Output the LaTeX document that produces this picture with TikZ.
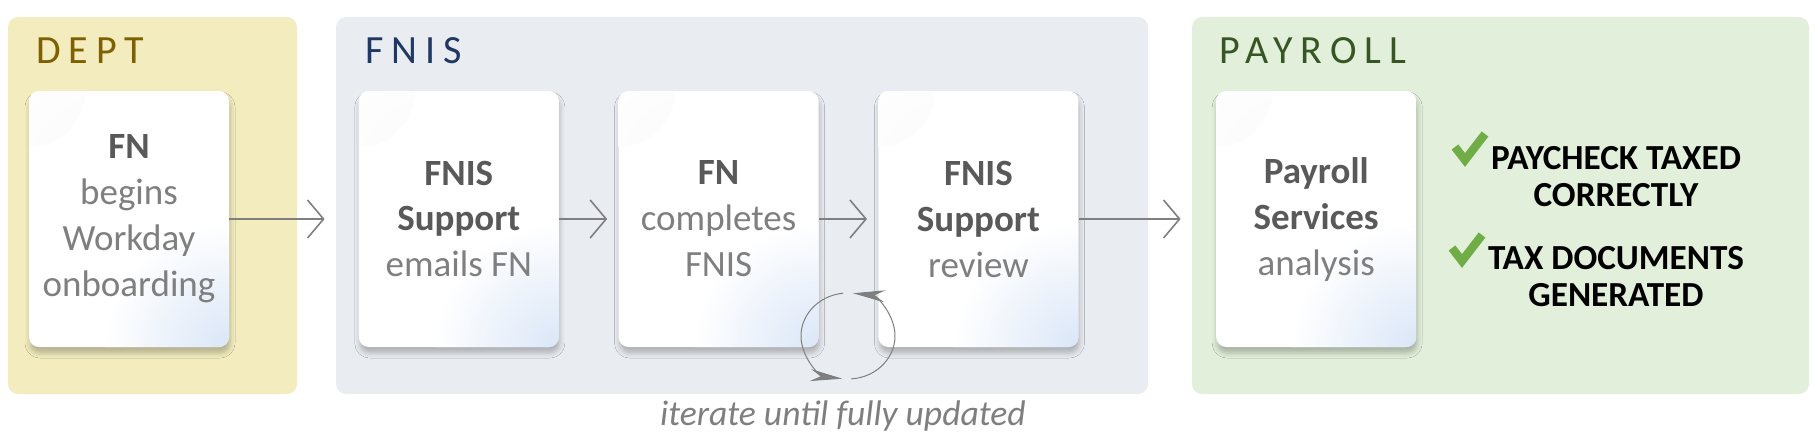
\documentclass[tikz,border=0pt]{standalone}
\usepackage{fontspec}
\setmainfont{Carlito}
\newfontfamily\titlefont[LetterSpace=20]{Carlito}
\usetikzlibrary{positioning,arrows.meta,shadows.blur}

\definecolor{deptfill}{HTML}{F2ECBF}
\definecolor{fnisfill}{HTML}{E9ECF1}
\definecolor{payfill}{HTML}{E2EFDA}
\definecolor{depttext}{HTML}{7F6000}
\definecolor{fnistext}{HTML}{1F3864}
\definecolor{paytext}{HTML}{375623}
\definecolor{boldgray}{HTML}{595959}
\definecolor{softgray}{HTML}{7F7F7F}
\definecolor{cardblue}{HTML}{DAE6F7}
\definecolor{checkgreen}{HTML}{70AD47}

\newcommand{\cardhead}[1]{\textcolor{boldgray}{\textbf{#1}}}

\begin{document}
\begin{tikzpicture}[x=0.5pt, y=-0.5pt,
    panel/.style={rounded corners=5pt, inner sep=0pt},
    paneltitle/.style={anchor=base west, inner sep=0pt, font=\titlefont\fontsize{20}{24}\selectfont},
    card/.style={rounded corners=5pt, minimum width=100pt, minimum height=128pt, inner sep=0pt, fill=white,
        path picture={
          \shade[inner color=white!95!gray, outer color=white] (path picture bounding box.north west) circle (28pt);
          \shade[inner color=cardblue, outer color=white] (path picture bounding box.south east) circle (62pt);},
        blur shadow={shadow xshift=0.5pt, shadow yshift=-3pt, shadow blur radius=2.5pt, shadow opacity=25},
        align=center, text=softgray, font=\fontsize{18.5}{23}\selectfont},
    flow/.style={draw=softgray, line width=0.8pt, -{Straight Barb[length=8pt,width=19pt]}, shorten >=5.5pt},
    loopline/.style={draw=softgray, line width=0.5pt, -{Stealth[length=16pt,width=6pt,quick]}},
    result/.style={anchor=north, inner sep=0pt, align=center, font=\bfseries\fontsize{17.6}{18.5}\selectfont},
    tick/.style={draw=checkgreen, line width=4.2pt}]
  \useasboundingbox (0,0) rectangle (1817,445);

  % lanes
  \node[panel, fill=deptfill, minimum width=144.5pt, minimum height=188.5pt] (dept) at (152.5,205.5) {};
  \node[panel, fill=fnisfill, minimum width=406pt, minimum height=188.5pt] (fnis) at (742,205.5) {};
  \node[panel, fill=payfill, minimum width=308.5pt, minimum height=188.5pt] (pay) at (1500.5,205.5) {};
  \node[paneltitle, text=depttext] (depttitle) at (36,63) {DEPT};
  \node[paneltitle, text=fnistext] (fnistitle) at (365,63) {FNIS};
  \node[paneltitle, text=paytext] (paytitle) at (1219,63) {PAYROLL};

  % steps
  \node[card] (c1) at (129,219) {\cardhead{FN}\\begins\\Workday\\onboarding};
  \node[card, right=64.5pt of c1] (c2) {\cardhead{FNIS}\\\cardhead{Support}\\emails FN};
  \node[card, right=29.5pt of c2] (c3) {\cardhead{FN}\\completes\\FNIS};
  \node[card, right=29.5pt of c3] (c4) {\cardhead{FNIS}\\\cardhead{Support}\\review};
  \node[card, right=68.5pt of c4] (c5) {\cardhead{Payroll}\\\cardhead{Services}\\analysis};

  \draw[flow] (c1.east) -- (c1.east -| fnis.west);
  \draw[flow] (c2) -- (c3);
  \draw[flow] (c3) -- (c4);
  \draw[flow] (c4.east) -- (c4.east -| pay.west);

  % loop between c3 and c4
  \coordinate (loop) at (848,336);
  \draw[loopline] ([shift={(96:23.5pt and 21.5pt)}]loop) arc[start angle=96, end angle=263, x radius=23.5pt, y radius=21.5pt];
  \draw[loopline] ([shift={(-86:23.5pt and 21.5pt)}]loop) arc[start angle=-86, end angle=84, x radius=23.5pt, y radius=21.5pt];
  \node[text=softgray, font=\itshape\fontsize{17.8}{20}\selectfont] (iterate) at (843,416) {iterate until fully updated};

  % outcomes
  \node[result] (taxed) at (1616,146) {PAYCHECK TAXED\\CORRECTLY};
  \node[result] (docs) at (1616,246) {TAX DOCUMENTS\\GENERATED};
  \draw[tick] (1455,147) -- (1465,160) -- (1485,134);
  \draw[tick] (1452,248) -- (1462,261) -- (1482,235);
\end{tikzpicture}
\end{document}
